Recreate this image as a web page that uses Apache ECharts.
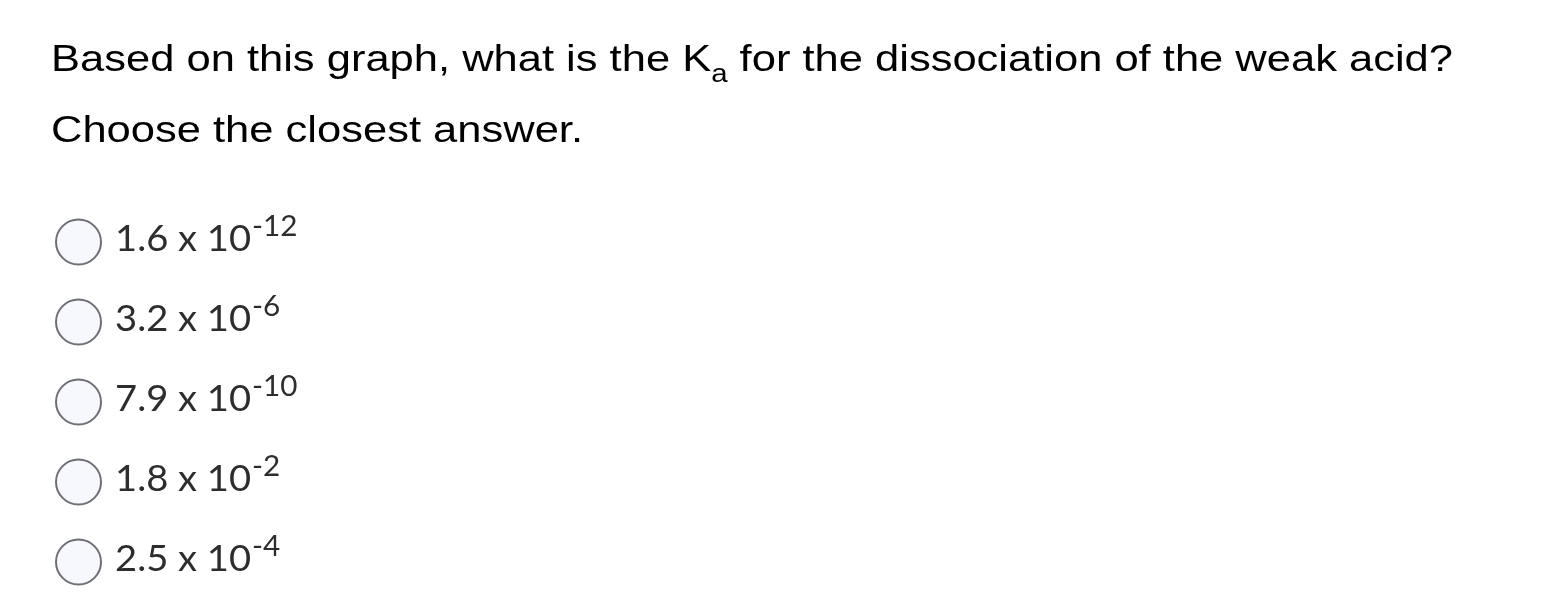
<!DOCTYPE html>
<html>
<head>
<meta charset="utf-8">
<title>Ka question</title>
<script src="https://cdn.jsdelivr.net/npm/echarts@6/dist/echarts.min.js"></script>
<style>
  html, body { margin: 0; padding: 0; background: #fff; }
  #chart { width: 1560px; height: 612px; }
</style>
</head>
<body>
<div id="chart"></div>
<script type="text/javascript">
	// question text
	var promptHead = 'Based on this graph, what is the K';
	var promptSub = 'a';
	var promptTail = ' for the dissociation of the weak acid?';
	var promptLine2 = 'Choose the closest answer.';
	// answer choices: mantissa x 10^exponent
	var mantissas = ['1.6', '3.2', '7.9', '1.8', '2.5'];
	var exponents = ['-12', '-6', '-10', '-2', '-4'];

	var titleFont = '37px "Liberation Sans", Arial, Helvetica, sans-serif';
	var subFont = '25px "Liberation Sans", Arial, Helvetica, sans-serif';
	var choiceFont = '36px Lato, "Noto Sans", sans-serif';
	var supFont = '28px Lato, "Noto Sans", sans-serif';

	var measureCtx = document.createElement('canvas').getContext('2d');
	function textWidth(str, font) {
		measureCtx.font = font;
		return measureCtx.measureText(str).width;
	}

	// y is the alphabetic baseline, sx a horizontal stretch
	function txt(str, x, baseY, font, color, size, sx) {
		return {
			type: 'text',
			x: x,
			y: baseY - size * 0.36,
			scaleX: sx,
			style: {
				text: str,
				font: font,
				fill: color,
				verticalAlign: 'middle',
				align: 'left'
			},
			silent: true
		};
	}

	var elements = [];
	var left = 51;
	// the original sans is a bit wider than Arial: stretch so the line ends near x=1453
	var rawTitle = textWidth(promptHead, titleFont) + textWidth(promptSub, subFont) + textWidth(promptTail, titleFont);
	var tsx = (1453 - left) / rawTitle;

	elements.push(txt(promptHead, left, 74, titleFont, '#000', 37, tsx));
	var xSub = left + textWidth(promptHead, titleFont) * tsx;
	elements.push(txt(promptSub, xSub, 84, subFont, '#000', 25, tsx));
	var xTail = xSub + textWidth(promptSub, subFont) * tsx;
	elements.push(txt(promptTail, xTail, 74, titleFont, '#000', 37, tsx));
	elements.push(txt(promptLine2, left, 145, titleFont, '#000', 37, tsx));

	var csx = 1.06;
	for (var i = 0; i < mantissas.length; i++) {
		var cy = 242 + i * 80;
		elements.push({
			type: 'circle',
			shape: { cx: 78.5, cy: cy, r: 22.5 },
			style: { fill: '#f6f8fd', stroke: '#6d7075', lineWidth: 2 },
			silent: true
		});
		var main = mantissas[i] + ' x 10';
		elements.push(txt(main, 115, cy + 10, choiceFont, '#2d2d2d', 36, csx));
		var xs = 115 + textWidth(main, choiceFont) * csx + 1;
		elements.push(txt(exponents[i], xs, cy - 5, supFont, '#2d2d2d', 28, csx));
	}

	var myChart = echarts.init(document.getElementById('chart'), null, { renderer: 'canvas' });
	myChart.setOption({
		backgroundColor: '#ffffff',
		animation: false,
		graphic: { elements: elements }
	});
</script>
</body>
</html>
